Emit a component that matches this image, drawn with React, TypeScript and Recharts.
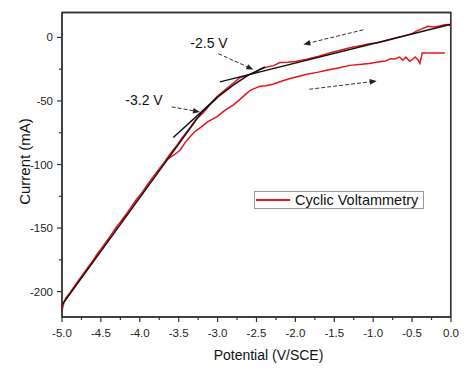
import React from 'react';
import {
  ComposedChart,
  Line,
  XAxis,
  YAxis,
  ReferenceLine,
  ReferenceArea,
  ReferenceDot,
  Legend,
} from 'recharts';

// ---------- data ----------
// cathodic sweep (upper branch, 0 V -> -5 V)
const upperV = [0.0, -0.03, -0.08, -0.15, -0.22, -0.3, -0.38, -0.45, -0.5, -0.6, -0.7, -0.8, -0.94, -1.05, -1.15, -1.3, -1.45, -1.56, -1.7, -1.855, -2.0, -2.1, -2.2, -2.28, -2.35, -2.455, -2.5, -2.6, -2.71, -2.8, -2.9, -3.01, -3.1, -3.19, -3.28, -3.355, -3.45, -3.53, -3.62, -3.7, -3.78, -3.86, -3.95, -4.05, -4.12, -4.2, -4.3, -4.38, -4.47, -4.55, -4.6, -4.68, -4.75, -4.82, -4.9, -4.95, -5.0];
const upperI = [8.5, 10.2, 10.0, 9.0, 8.2, 8.8, 6.5, 4.8, 3.0, 1.2, -0.2, -2.0, -4.2, -5.0, -6.3, -8.2, -10.5, -12.3, -14.8, -17.2, -19.0, -19.5, -19.8, -22.2, -23.0, -25.0, -27.2, -29.5, -31.5, -36.1, -41.0, -46.8, -53.0, -59.6, -64.5, -71.0, -78.5, -85.5, -92.5, -99.5, -106.0, -112.5, -120.5, -128.5, -134.5, -141.0, -149.5, -156.5, -164.0, -171.0, -175.5, -182.0, -188.0, -194.0, -201.0, -205.0, -212.0];
// anodic sweep (lower branch, -5 V -> 0 V)
const lowerV = [-5.0, -4.97, -4.92, -4.85, -4.78, -4.7, -4.62, -4.55, -4.48, -4.4, -4.3, -4.22, -4.15, -4.05, -3.97, -3.88, -3.8, -3.72, -3.65, -3.56, -3.48, -3.42, -3.355, -3.29, -3.23, -3.12, -3.01, -2.9, -2.8, -2.71, -2.63, -2.58, -2.5, -2.455, -2.38, -2.29, -2.18, -2.07, -1.95, -1.855, -1.72, -1.6, -1.45, -1.3, -1.15, -1.05, -0.94, -0.84, -0.78, -0.72, -0.66, -0.62, -0.58, -0.53, -0.49, -0.46, -0.42, -0.4, -0.37, -0.2, -0.08];
const lowerI = [-215.0, -207.5, -203.0, -197.0, -190.5, -184.0, -177.5, -170.5, -165.0, -158.5, -149.0, -143.5, -137.0, -128.0, -122.0, -114.0, -107.5, -101.0, -96.0, -92.5, -88.6, -83.0, -78.2, -74.0, -71.4, -66.0, -62.5, -57.0, -53.3, -48.6, -44.2, -41.6, -39.5, -38.4, -38.0, -36.9, -34.5, -32.4, -30.5, -29.0, -27.5, -25.9, -24.0, -22.0, -21.2, -20.5, -19.4, -18.5, -16.7, -16.9, -15.5, -18.0, -15.5, -18.8, -17.0, -15.4, -18.0, -20.4, -12.3, -12.2, -12.3];

// fitted black lines
const fitV = [-5.0, -3.2, -3.0, -2.8, -2.6, -2.39];
const fitI = [-210.5, -58.6, -47.0, -37.5, -29.5, -23.3];
const tangentLowV = [-2.97, -0.013];
const tangentLowI = [-35.0, 10.2];
const tangentHighV = [-3.57, -3.01];
const tangentHighI = [-78.7, -47.6];

// annotations: [startV, startI, endV, endI]
const arrows = [
  [-2.99, -12.8, -2.54, -25.3],
  [-3.59, -54.7, -3.226, -58.6],
  [-1.127, 6.0, -1.898, -5.5],
  [-1.821, -40.8, -0.955, -34.3],
];
const annotationText = ['-2.5 V', '-3.2 V'];
const annotationV = [-3.11, -3.946];
const annotationI = [-4.7, -49.4];

const xTicks = [-5, -4.75, -4.5, -4.25, -4, -3.75, -3.5, -3.25, -3, -2.75, -2.5, -2.25, -2, -1.75, -1.5, -1.25, -1, -0.75, -0.5, -0.25, 0];
const yTicks = [-200, -175, -150, -125, -100, -75, -50, -25, 0];
const xDomain = [-5, 0];
const yDomain = [-220, 20];
// plot-box outline, set a hair inside the domain so it is never clipped
const boxX = [-5, -0.004];
const boxY = [-220, 19.6];

const seriesName = 'Cyclic Voltammetry';

// ---------- build tables ----------
const cvData = [
  ...upperV.map((v, i) => ({ v, i: upperI[i] })),
  ...lowerV.map((v, i) => ({ v, i: lowerI[i] })),
];
const fitData = fitV.map((v, i) => ({ v, i: fitI[i] }));
const tanLowData = tangentLowV.map((v, i) => ({ v, i: tangentLowI[i] }));
const tanHighData = tangentHighV.map((v, i) => ({ v, i: tangentHighI[i] }));
const frameData = [
  { v: boxX[0], i: boxY[1] },
  { v: boxX[1], i: boxY[1] },
  { v: boxX[1], i: boxY[0] },
];

const FONT = '"Liberation Sans", Arial, sans-serif';
const AXIS = '#333';
const RED = '#e8141c';

const XTick = (props: any) => {
  const { x, y, payload } = props;
  const v = payload.value;
  const major = Math.abs(v * 2 - Math.round(v * 2)) < 1e-6;
  return (
    <g>
      <line x1={x} x2={x} y1={y} y2={y + (major ? 5 : 3)} stroke={AXIS} strokeWidth={1.2} />
      {major && (
        <text x={x} y={y + 20} textAnchor="middle" fontSize={11.5} fill="#222" fontFamily={FONT}>
          {v.toFixed(1)}
        </text>
      )}
    </g>
  );
};

const YTick = (props: any) => {
  const { x, y, payload } = props;
  const v = payload.value;
  const major = v % 50 === 0;
  return (
    <g>
      <line x1={x} x2={x - (major ? 5 : 3)} y1={y} y2={y} stroke={AXIS} strokeWidth={1.2} />
      {major && (
        <text x={x - 9} y={y + 4} textAnchor="end" fontSize={11.5} fill="#222" fontFamily={FONT}>
          {String(v)}
        </text>
      )}
    </g>
  );
};

const ArrowShape = (props: any) => {
  const { x1, y1, x2, y2 } = props;
  const ang = Math.atan2(y2 - y1, x2 - x1);
  const L = 7;
  const W = 2.8;
  const bx = x2 - L * Math.cos(ang);
  const by = y2 - L * Math.sin(ang);
  const px = -Math.sin(ang) * W;
  const py = Math.cos(ang) * W;
  return (
    <g>
      <line x1={x1} y1={y1} x2={bx} y2={by} stroke="#333" strokeWidth={1} strokeDasharray="4 2" />
      <polygon points={`${x2},${y2} ${bx + px},${by + py} ${bx - px},${by - py}`} fill="#222" />
    </g>
  );
};

const LegendBox = () => (
  <div
    style={{
      width: 170,
      height: 18,
      boxSizing: 'border-box',
      border: '1px solid #9a9a9a',
      background: '#fff',
      display: 'flex',
      alignItems: 'center',
      fontFamily: FONT,
      fontSize: 14.5,
      color: '#111',
      whiteSpace: 'nowrap',
    }}
  >
    <div style={{ width: 34, height: 2.5, background: RED, marginLeft: 1, marginRight: 5 }} />
    <span>{seriesName}</span>
  </div>
);

export default function App() {
  return (
    <ComposedChart
      width={466}
      height={364}
      margin={{ top: 4, right: 23, bottom: 0, left: 0 }}
      style={{ fontFamily: FONT }}
    >
      <XAxis
        dataKey="v"
        type="number"
        domain={xDomain}
        ticks={xTicks}
        interval={0}
        tick={<XTick />}
        tickLine={false}
        tickSize={0}
        tickMargin={0}
        height={55}
        stroke={AXIS}
        strokeWidth={1.4}
        label={{
          content: (p: any) => {
            const vb = p.viewBox;
            return (
              <text x={vb.x + vb.width / 2 + 12} y={vb.y + 43} textAnchor="middle" fontSize={14} fill="#111" fontFamily={FONT}>
                Potential (V/SCE)
              </text>
            );
          },
        }}
      />
      <YAxis
        dataKey="i"
        type="number"
        domain={yDomain}
        ticks={yTicks}
        interval={0}
        tick={<YTick />}
        tickLine={false}
        tickSize={0}
        tickMargin={0}
        width={54}
        stroke={AXIS}
        strokeWidth={1.4}
        label={{
          content: (p: any) => {
            const vb = p.viewBox;
            const cx = 22;
            const cy = vb.y + vb.height / 2 - 3;
            return (
              <text x={cx} y={cy} transform={`rotate(-90 ${cx} ${cy})`} textAnchor="middle" fontSize={15} fill="#111" fontFamily={FONT}>
                Current (mA)
              </text>
            );
          },
        }}
      />

      {/* plot box outline */}
      <ReferenceArea
        x1={boxX[0]}
        x2={boxX[1]}
        y1={boxY[0]}
        y2={boxY[1]}
        fill="none"
        fillOpacity={0}
        stroke={AXIS}
        strokeWidth={1.4}
        strokeOpacity={1}
        ifOverflow="visible"
      />
      <Line data={frameData} dataKey="i" type="linear" stroke={AXIS} strokeWidth={1.4} dot={false} activeDot={false} isAnimationActive={false} legendType="none" />

      <Line
        data={cvData}
        dataKey="i"
        name={seriesName}
        type="linear"
        stroke={RED}
        strokeWidth={1.5}
        dot={false}
        isAnimationActive={false}
      />
      <Line data={fitData} dataKey="i" type="linear" stroke="#111" strokeWidth={1.5} dot={false} isAnimationActive={false} legendType="none" />
      <Line data={tanLowData} dataKey="i" type="linear" stroke="#111" strokeWidth={1.5} dot={false} isAnimationActive={false} legendType="none" />
      <Line data={tanHighData} dataKey="i" type="linear" stroke="#111" strokeWidth={1.5} dot={false} isAnimationActive={false} legendType="none" />

      {arrows.map((a, k) => (
        <ReferenceLine
          key={`arrow-${k}`}
          segment={[
            { x: a[0], y: a[1] },
            { x: a[2], y: a[3] },
          ]}
          shape={(p: any) => <ArrowShape {...p} />}
        />
      ))}
      {annotationText.map((t, k) => (
        <ReferenceDot
          key={`lbl-${k}`}
          x={annotationV[k]}
          y={annotationI[k]}
          r={0}
          fill="none"
          stroke="none"
          label={{ value: t, position: 'center', fontSize: 14, fill: '#111', fontFamily: FONT }}
        />
      ))}

      <Legend
        layout="vertical"
        align="center"
        verticalAlign="middle"
        wrapperStyle={{ left: 246, top: 183, width: 'auto', height: 'auto' }}
        content={() => <LegendBox />}
      />
    </ComposedChart>
  );
}
